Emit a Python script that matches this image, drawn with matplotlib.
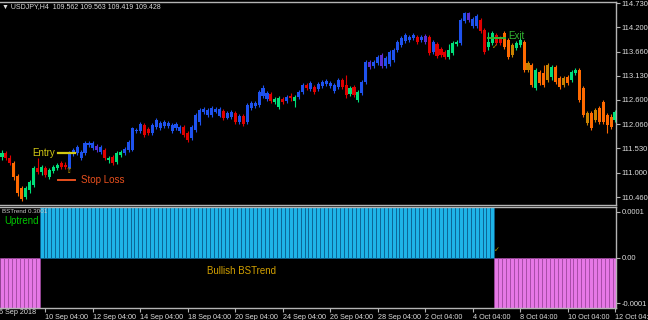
import matplotlib
matplotlib.use("Agg")
import matplotlib.pyplot as plt

plt.rcParams['font.family'] = ['Liberation Sans', 'DejaVu Sans']

# USDJPY H4 candles (open / close / high / low)
opens = [111.35, 111.43, 111.32, 111.21, 110.93, 110.66, 110.47, 110.62, 110.73, 111.10,
         111.02, 111.10, 110.91, 111.04, 111.10, 111.21, 111.17, 111.10, 111.43, 111.43,
         111.46, 111.43, 111.61, 111.65, 111.59, 111.57, 111.50, 111.32, 111.35, 111.24,
         111.39, 111.43, 111.50, 111.50, 111.92, 111.92, 112.05, 111.96, 111.87, 112.01,
         112.09, 112.03, 112.09, 112.05, 111.98, 112.01, 112.01, 111.87, 111.76, 111.94,
         112.12, 112.34, 112.38, 112.27, 112.34, 112.40, 112.36, 112.20, 112.23, 112.31,
         112.12, 112.25, 112.12, 112.42, 112.47, 112.49, 112.69, 112.75, 112.73, 112.56,
         112.45, 112.62, 112.58, 112.69, 112.58, 112.67, 112.78, 112.93, 112.84, 112.89,
         112.84, 112.91, 112.95, 112.97, 112.93, 112.89, 113.04, 112.93, 112.73, 112.89,
         112.60, 112.75, 113.00, 113.44, 113.35, 113.41, 113.59, 113.35, 113.39, 113.48,
         113.70, 113.81, 113.90, 113.92, 113.96, 113.99, 113.92, 114.01, 113.99, 113.66,
         113.83, 113.72, 113.66, 113.55, 113.63, 113.83, 113.85, 114.34, 114.51, 114.38,
         114.23, 114.36, 114.14, 113.77, 113.85, 114.03, 113.96, 114.07, 113.92, 113.81,
         113.74, 113.81, 113.88, 113.41, 113.37, 112.86, 113.22, 113.19, 113.37, 113.11,
         113.33, 113.08, 113.08, 113.11, 113.04, 113.19, 113.26, 112.86, 112.31, 112.31,
         112.38, 112.42, 112.56, 112.27, 112.23, 112.16]
closes = [111.43, 111.32, 111.21, 110.91, 110.55, 110.42, 110.66, 110.80, 111.10, 111.02,
          111.13, 110.95, 111.06, 111.13, 111.17, 111.13, 111.13, 111.43, 111.50, 111.57,
          111.32, 111.65, 111.65, 111.54, 111.50, 111.46, 111.32, 111.28, 111.21, 111.43,
          111.46, 111.52, 111.68, 111.98, 111.94, 112.07, 111.83, 111.87, 112.05, 112.16,
          111.98, 112.12, 112.03, 111.92, 112.07, 111.92, 111.83, 111.72, 112.01, 112.27,
          112.38, 112.40, 112.27, 112.42, 112.40, 112.25, 112.20, 112.31, 112.34, 112.12,
          112.25, 112.07, 112.49, 112.53, 112.53, 112.78, 112.86, 112.62, 112.58, 112.62,
          112.64, 112.56, 112.67, 112.64, 112.67, 112.78, 112.93, 112.86, 112.97, 112.78,
          112.95, 113.00, 113.02, 112.91, 112.80, 113.04, 112.89, 112.71, 112.86, 112.71,
          112.78, 113.00, 113.44, 113.33, 113.44, 113.55, 113.35, 113.52, 113.66, 113.70,
          113.88, 113.96, 114.03, 113.99, 114.03, 113.88, 113.99, 113.88, 113.63, 113.88,
          113.57, 113.59, 113.55, 113.70, 113.85, 113.88, 114.36, 114.51, 114.36, 114.23,
          114.45, 114.12, 113.66, 113.88, 114.07, 113.85, 113.85, 113.77, 113.55, 113.59,
          113.85, 113.92, 113.26, 113.26, 112.93, 113.26, 112.97, 112.93, 113.04, 113.33,
          113.00, 112.89, 112.93, 112.97, 113.22, 113.26, 112.60, 112.27, 112.09, 111.98,
          112.16, 112.12, 112.12, 112.05, 112.01, 112.34]
highs = [111.50, 111.48, 111.39, 111.26, 110.97, 110.71, 110.71, 110.84, 111.15, 111.32,
         111.17, 111.15, 111.10, 111.17, 111.21, 111.26, 111.24, 111.48, 111.54, 111.61,
         111.50, 111.70, 111.70, 111.70, 111.63, 111.61, 111.54, 111.37, 111.39, 111.48,
         111.50, 111.57, 111.72, 112.01, 111.98, 112.12, 112.09, 112.01, 112.09, 112.20,
         112.14, 112.16, 112.14, 112.09, 112.12, 112.05, 112.05, 111.92, 112.05, 112.31,
         112.42, 112.45, 112.42, 112.47, 112.45, 112.45, 112.40, 112.36, 112.38, 112.36,
         112.29, 112.29, 112.53, 112.58, 112.58, 112.82, 112.93, 112.80, 112.78, 112.67,
         112.69, 112.67, 112.71, 112.75, 112.71, 112.82, 112.97, 112.97, 113.02, 112.93,
         113.00, 113.04, 113.06, 113.02, 112.97, 113.08, 113.08, 113.15, 112.91, 112.93,
         112.82, 113.04, 113.48, 113.48, 113.48, 113.59, 113.63, 113.57, 113.70, 113.74,
         113.92, 114.01, 114.07, 114.03, 114.07, 114.03, 114.03, 114.05, 114.03, 113.92,
         113.88, 113.77, 113.70, 113.83, 113.90, 113.92, 114.40, 114.54, 114.54, 114.43,
         114.49, 114.40, 114.18, 114.10, 114.12, 114.07, 114.01, 114.12, 113.96, 113.85,
         113.90, 113.96, 113.92, 113.46, 113.41, 113.30, 113.26, 113.37, 113.41, 113.37,
         113.37, 113.13, 113.13, 113.15, 113.26, 113.30, 113.30, 112.91, 112.36, 112.36,
         112.42, 112.47, 112.60, 112.31, 112.29, 112.38]
lows = [111.28, 111.28, 111.17, 110.84, 110.49, 110.38, 110.42, 110.55, 110.69, 110.97,
        110.95, 110.91, 110.86, 110.99, 111.06, 111.08, 111.08, 111.08, 111.37, 111.39,
        111.28, 111.39, 111.57, 111.50, 111.46, 111.41, 111.28, 111.21, 111.17, 111.19,
        111.35, 111.39, 111.46, 111.48, 111.87, 111.87, 111.79, 111.83, 111.83, 111.96,
        111.94, 111.98, 111.98, 111.87, 111.94, 111.87, 111.79, 111.68, 111.72, 111.90,
        112.05, 112.29, 112.23, 112.23, 112.31, 112.23, 112.16, 112.18, 112.18, 112.07,
        112.07, 112.03, 112.07, 112.38, 112.42, 112.45, 112.64, 112.58, 112.53, 112.51,
        112.40, 112.51, 112.53, 112.58, 112.45, 112.62, 112.73, 112.82, 112.80, 112.73,
        112.80, 112.86, 112.91, 112.86, 112.75, 112.84, 112.84, 112.64, 112.69, 112.67,
        112.56, 112.71, 112.95, 113.28, 113.30, 113.37, 113.30, 113.30, 113.35, 113.44,
        113.66, 113.77, 113.85, 113.88, 113.92, 113.83, 113.88, 113.83, 113.59, 113.61,
        113.52, 113.55, 113.50, 113.50, 113.59, 113.79, 113.81, 114.29, 114.32, 114.18,
        114.18, 114.07, 113.61, 113.70, 113.81, 113.81, 113.81, 113.72, 113.50, 113.55,
        113.70, 113.77, 113.22, 113.22, 112.89, 112.82, 112.93, 112.89, 113.00, 113.04,
        112.95, 112.84, 112.89, 112.93, 113.00, 113.15, 112.56, 112.23, 112.05, 111.94,
        112.12, 112.07, 112.07, 111.87, 111.96, 112.12]
# candle colour code per bar: g green, r red, o orange, d dark orange, b blue, p purple
candle_codes = ("grrooogggr" "grgggrrbbb" "bbbbpbrgrg" "gbbbbbrrbb" "bbbbbbrrbb"
                "bbbbbbrbbr" "brbbbbbbrg" "grbrgbbrbr" "bbbbbbrrgr" "gbbpbbpbbb"
                "bbbbbrbprb" "rrrgggbbpb" "brrggrrood" "ggodogoodg" "oodoggoodo"
                "doooog")

# BSTrend histogram: (value, number of bars)
bstrend_runs = [(-0.00011, 10), (0.00011, 115), (-0.00011, 31)]

price_ticks = [114.730, 114.200, 113.660, 113.130, 112.600, 112.060, 111.530, 111.000, 110.460]
ind_ticks = [0.0001, 0.0, -0.0001]
ind_tick_labels = ["0.0001", "0.00", "-0.0001"]
time_tick_bars = [11, 23, 35, 47, 59, 71, 83, 95, 107, 119, 131, 143, 155]
time_tick_labels = ["10 Sep 04:00", "12 Sep 04:00", "14 Sep 04:00", "18 Sep 04:00",
                    "20 Sep 04:00", "24 Sep 04:00", "26 Sep 04:00", "28 Sep 04:00",
                    "2 Oct 04:00", "4 Oct 04:00", "8 Oct 04:00", "10 Oct 04:00",
                    "12 Oct 04:00"]

palette = {'g': '#00E07A', 'r': '#E00000', 'o': '#FF6A00', 'd': '#C88200',
           'b': '#1E52EE', 'p': '#5A2DD2'}
GRID = '#B4B4B4'
TXT = '#DCDCDC'

W, H = 648, 320


def px_box(x0, y0, x1, y1):
    return [x0 / W, 1 - y1 / H, (x1 - x0) / W, (y1 - y0) / H]


fig = plt.figure(figsize=(6.48, 3.2), dpi=100, facecolor='black')
ax = fig.add_axes(px_box(0, 2, 616, 205), facecolor='black')
ax2 = fig.add_axes(px_box(0, 207, 616, 308), facecolor='black', sharex=ax)

n = len(closes)
xs = list(range(n))
cols = [palette[c] for c in candle_codes]

# candles
ax.vlines(xs, lows, highs, colors=cols, linewidth=0.8)
ax.bar(xs, [c - o for o, c in zip(opens, closes)], bottom=opens, width=0.78,
       color=cols, linewidth=0)

ax.set_xlim(-0.5, 155.25)
ax.set_ylim(110.284, 114.759)

# trade annotations
ax.plot([14.2, 18.5], [111.43, 111.43], color='#D2C814', lw=1.6)
ax.text(13.3, 111.44, "Entry", color='#D2C814', fontsize=7, ha='right', va='center')
ax.plot([14.2, 18.5], [110.84, 110.84], color='#E8501E', lw=1.4)
ax.text(20.0, 110.84, "Stop Loss", color='#E8501E', fontsize=7, ha='left', va='center')
ax.text(17, 111.04, "⇧", color='#C8A000', fontsize=5.5, ha='center', va='center',
        family=['DejaVu Sans'])
ax.plot([122.9, 127.2], [113.96, 113.96], color='#32B432', lw=1.4)
ax.text(127.9, 114.01, "Exit", color='#32B432', fontsize=7, ha='left', va='center')
ax.text(124.7, 113.77, "✓", color='#B4A000', fontsize=5, ha='center', va='center',
        family=['DejaVu Sans'])

# indicator histogram
vals = []
for v, count in bstrend_runs:
    vals += [v] * count
ind_cols = ['#1EB4E8' if v > 0 else '#E678E6' for v in vals]
ind_edges = ['#0A5A8C' if v > 0 else '#A048A0' for v in vals]
ax2.bar(xs, vals, width=1.0, color=ind_cols, edgecolor=ind_edges, linewidth=0.5)
ax2.set_ylim(-0.00011, 0.00011)
ax2.text(125.2, 0.000017, "✓", color='#B4A000', fontsize=5, ha='center', va='center',
         family=['DejaVu Sans'])
ax2.text(60.5, -0.00003, "Bullish BSTrend", color='#D2A000', fontsize=7,
         ha='center', va='center')

# axes styling
for a in (ax, ax2):
    a.spines['left'].set_visible(False)
    for s in ('right', 'top', 'bottom'):
        a.spines[s].set_color(GRID)
        a.spines[s].set_linewidth(1.0)
    a.yaxis.tick_right()
    a.tick_params(axis='y', colors=GRID, labelcolor=TXT, labelsize=5.5,
                  length=3, width=0.8, pad=1)

ax.set_yticks(price_ticks, labels=[f"{v:.3f}" for v in price_ticks])
ax2.set_yticks(ind_ticks, labels=ind_tick_labels)
ax.tick_params(axis='x', bottom=False, labelbottom=False)
ax2.set_xticks(time_tick_bars, labels=time_tick_labels)
ax2.tick_params(axis='x', colors=GRID, labelcolor=TXT, labelsize=5.2,
                length=3, width=0.8, pad=1)
plt.setp(ax2.get_xticklabels(), ha='left')

# figure-level labels
fig.text(-1 / W, 1 - 313 / H, "6 Sep 2018", color=TXT, fontsize=5.2, ha='left', va='center')
fig.text(2 / W, 1 - 7 / H, "▼ USDJPY,H4  109.562 109.563 109.419 109.428", color=TXT,
         fontsize=5, ha='left', va='center')
fig.text(2 / W, 1 - 211.5 / H, "BSTrend 0.3001", color='#C8C8C8', fontsize=4.5,
         ha='left', va='center')
fig.text(4 / W, 1 - 221 / H, "Uptrend", color='#00C800', fontsize=7, ha='left', va='center')

fig.savefig("out.png", dpi=100, facecolor='black')
